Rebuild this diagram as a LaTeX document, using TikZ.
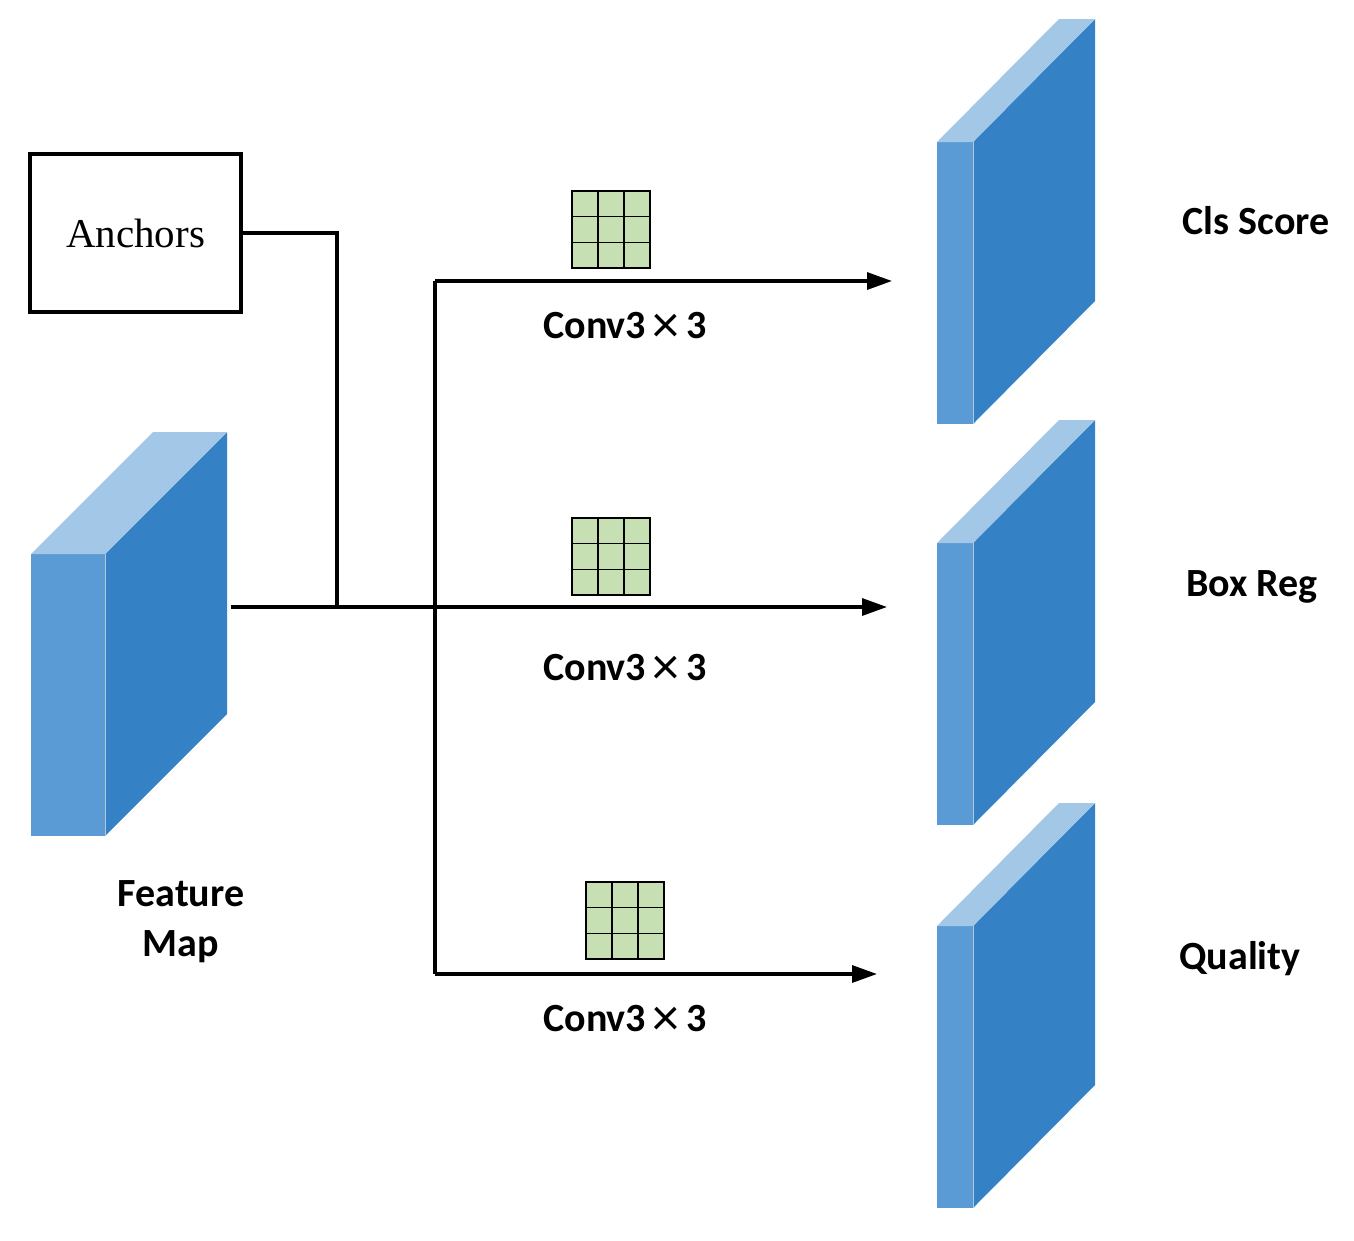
\documentclass[tikz,border=0pt]{standalone}
\usepackage{fontspec}
\setmainfont{Liberation Serif}
\newfontfamily\labelfont{Carlito}
\usetikzlibrary{arrows.meta,positioning}

\definecolor{frontblue}{HTML}{5B9BD5}
\definecolor{sideblue}{HTML}{3481C6}
\definecolor{topblue}{HTML}{A3C7E7}
\definecolor{edgegray}{HTML}{B4C7D9}
\definecolor{kernelgreen}{HTML}{C6E0B4}

\newcommand{\convtimes}{\,\raisebox{-4pt}{\mdseries\fontsize{54}{54}\selectfont ×}\,}

\tikzset{
  link/.style={line width=3.2pt},
  arrowlink/.style={link, -{Triangle[length=25pt,width=17pt]}},
  headlabel/.style={font=\labelfont\bfseries\fontsize{40}{44}\selectfont, align=center},
  kernel/.style={fill=kernelgreen, draw=black, line width=1.2pt}
}

\begin{document}
\begin{tikzpicture}[x=1pt,y=-1pt]
            \useasboundingbox (0,0) rectangle (1354,1240);
            % feature map block
            \fill [frontblue] (31,554) rectangle (105,836);
            \fill [sideblue] (105,554) -- (227,432) -- (227,714) -- (105,836) -- cycle;
            \fill [topblue] (31,554) -- (153,432) -- (227,432) -- (105,554) -- cycle;
            \draw [edgegray, line width=0.8pt] (105,554) -- (105,836);
            \node [headlabel] (fmlabel) at (181,922) {Feature\\[6pt]Map};
            % output blocks
            \foreach \ytop/\name in {142/Cls Score, 543/Box Reg, 926/Quality} {
                \fill [frontblue] (937,\ytop) rectangle (973,\ytop+282);
                \fill [sideblue] (973,\ytop) -- (1095,\ytop-123) -- (1095,\ytop+159) -- (973,\ytop+282) -- cycle;
                \fill [topblue] (937,\ytop) -- (1059,\ytop-123) -- (1095,\ytop-123) -- (973,\ytop) -- cycle;
                \draw [edgegray, line width=0.8pt] (973,\ytop) -- (973,\ytop+282);
            }
            \node [headlabel] (clslabel) at (1256,221) {Cls Score};
            \node [headlabel] (reglabel) at (1252,587) {Box Reg};
            \node [headlabel] (qlabel) at (1240,959) {Quality};
            % anchors box
            \node [draw, line width=3.2pt, minimum width=211pt, minimum height=158pt,
                   font=\fontsize{41}{44}\selectfont] (anchors) at (135.5,233) {Anchors};
            % connectors
            \coordinate (fmout) at (231,607);
            \coordinate (join) at (337,607);
            \coordinate (split) at (435,607);
            \coordinate (upper) at (435,281);
            \coordinate (lower) at (435,974);
            \coordinate (clsin) at (892,281);
            \coordinate (regin) at (887,607);
            \coordinate (qin) at (877,974);
            \draw [link] (anchors.east) -| (join);
            \draw [arrowlink] (fmout) -- (regin);
            \draw [link] (upper) -- (lower);
            \draw [arrowlink] (upper) -- (clsin);
            \draw [arrowlink] (lower) -- (qin);
            % 3x3 kernels
            \foreach \kx/\ky in {572/191, 572/518, 586/882} {
                \draw [kernel] (\kx,\ky) rectangle (\kx+78,\ky+77);
                \draw [line width=1.2pt] (\kx+26,\ky) -- (\kx+26,\ky+77);
                \draw [line width=1.2pt] (\kx+52,\ky) -- (\kx+52,\ky+77);
                \draw [line width=1.2pt] (\kx,\ky+25.7) -- (\kx+78,\ky+25.7);
                \draw [line width=1.2pt] (\kx,\ky+51.3) -- (\kx+78,\ky+51.3);
            }
            \node [headlabel] (conva) at (625,327) {Conv3\convtimes3};
            \node [headlabel] (convb) at (625,669) {Conv3\convtimes3};
            \node [headlabel] (convc) at (625,1020) {Conv3\convtimes3};
        \end{tikzpicture}
\end{document}
